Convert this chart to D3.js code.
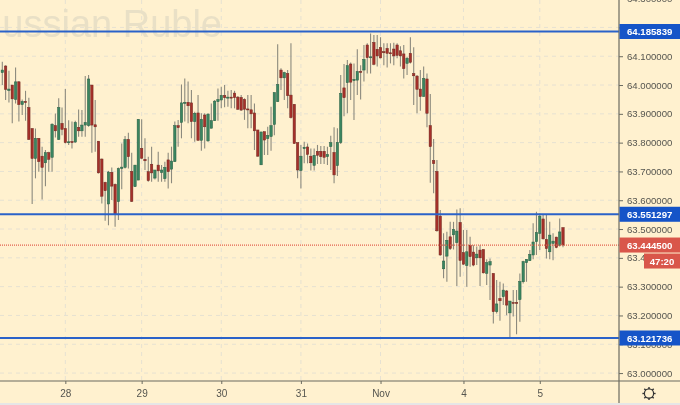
<!DOCTYPE html>
<html>
<head>
<meta charset="utf-8">
<script src="https://cdnjs.cloudflare.com/ajax/libs/d3/7.8.5/d3.min.js"></script>
<style>
html, body { margin: 0; padding: 0; background: #fff1cf; overflow: hidden; }
svg { display: block; filter: blur(0.35px); }
text { font-family: "Liberation Sans", Arial, sans-serif; }
</style>
</head>
<body>
<div id="chart"></div>
<script>
// hourly candles
var opens = [
    64.043,64.066,63.981,64.000,63.950,64.011,63.932,63.943,63.922,63.849,
    63.745,63.815,63.753,63.730,63.765,63.749,63.859,63.811,63.867,63.849,
    63.800,63.804,63.802,63.853,63.841,63.861,63.859,64.000,63.862,63.805,
    63.743,63.662,63.587,63.697,63.655,63.595,63.710,63.714,63.811,63.700,
    63.647,63.670,63.780,63.742,63.699,63.725,63.677,63.722,63.696,63.675,
    63.740,63.708,63.734,63.859,63.870,63.936,63.940,63.938,63.873,63.903,
    63.808,63.896,63.806,63.850,63.876,63.942,63.948,63.964,63.956,63.958,
    63.972,63.958,63.957,63.950,63.917,63.914,63.903,63.844,63.723,63.838,
    63.814,63.821,63.863,63.942,64.052,64.025,64.040,63.965,63.933,63.800,
    63.703,63.779,63.785,63.753,63.721,63.770,63.770,63.770,63.751,63.786,
    63.766,63.720,63.800,63.990,64.008,64.073,64.015,64.017,64.047,64.052,
    64.139,64.095,64.148,64.124,64.130,64.116,64.127,64.112,64.125,64.139,
    64.119,64.108,64.075,64.110,64.040,64.031,63.986,63.960,64.021,63.859,
    63.738,63.700,63.545,63.362,63.406,63.473,63.480,63.453,63.523,63.418,
    63.373,63.444,63.420,63.400,63.427,63.429,63.346,63.375,63.346,63.213,
    63.259,63.265,63.285,63.209,63.245,63.245,63.255,63.317,63.383,63.390,
    63.410,63.456,63.485,63.535,63.464,63.421,63.450,63.472,63.444,63.505];
var highs = [
    64.081,64.069,64.050,64.000,64.061,64.014,63.950,63.980,63.956,63.849,
    63.849,63.815,63.786,63.774,63.768,63.867,63.901,63.954,63.922,63.986,
    63.878,63.873,63.876,63.915,63.913,64.031,64.035,64.000,63.948,63.805,
    63.745,63.664,63.702,63.714,63.658,63.714,63.797,63.823,63.834,63.765,
    63.722,63.881,63.881,63.815,63.751,63.786,63.705,63.768,63.722,63.734,
    63.765,63.786,63.873,63.879,64.002,64.023,64.012,63.983,63.907,63.965,
    63.902,63.902,63.902,63.936,63.948,63.988,63.994,64.000,63.980,63.983,
    63.980,63.962,63.965,63.954,63.965,63.965,63.936,63.844,63.838,63.838,
    63.855,63.925,63.974,64.142,64.058,64.046,64.052,64.145,63.933,63.800,
    63.792,63.803,63.797,63.780,63.780,63.792,63.788,63.788,63.786,63.824,
    63.853,63.850,64.035,64.073,64.087,64.078,64.075,64.124,64.069,64.139,
    64.145,64.179,64.174,64.174,64.166,64.145,64.145,64.145,64.147,64.145,
    64.135,64.139,64.098,64.166,64.131,64.035,64.052,64.064,64.040,63.969,
    63.813,63.740,63.566,63.485,63.491,63.525,63.525,63.568,63.572,63.497,
    63.497,63.473,63.444,63.439,63.444,63.429,63.395,63.398,63.346,63.323,
    63.317,63.311,63.288,63.250,63.288,63.288,63.346,63.390,63.395,63.427,
    63.520,63.560,63.554,63.549,63.549,63.525,63.485,63.473,63.537,63.505];
var lows = [
    64.000,63.948,63.939,63.867,63.936,63.873,63.896,63.876,63.809,63.587,
    63.676,63.699,63.603,63.649,63.699,63.699,63.818,63.809,63.826,63.797,
    63.792,63.780,63.800,63.820,63.820,63.820,63.855,63.765,63.768,63.693,
    63.589,63.529,63.513,63.601,63.508,63.531,63.638,63.710,63.710,63.594,
    63.647,63.670,63.742,63.705,63.664,63.664,63.672,63.664,63.664,63.664,
    63.641,63.659,63.734,63.786,63.815,63.873,63.867,63.815,63.803,63.807,
    63.772,63.780,63.803,63.850,63.876,63.876,63.919,63.923,63.925,63.919,
    63.919,63.913,63.911,63.879,63.850,63.850,63.774,63.751,63.722,63.757,
    63.757,63.772,63.826,63.942,63.983,63.948,63.919,63.884,63.795,63.676,
    63.641,63.728,63.728,63.703,63.703,63.726,63.726,63.726,63.722,63.705,
    63.659,63.684,63.795,63.892,63.902,63.948,63.879,63.965,63.950,64.012,
    64.040,64.040,64.069,64.064,64.093,64.069,64.061,64.075,64.069,64.093,
    64.064,64.023,64.035,64.075,63.931,63.902,63.911,63.960,63.853,63.661,
    63.624,63.491,63.407,63.329,63.317,63.427,63.429,63.302,63.334,63.376,
    63.300,63.369,63.371,63.375,63.302,63.346,63.306,63.254,63.172,63.207,
    63.182,63.236,63.201,63.123,63.196,63.135,63.178,63.311,63.317,63.390,
    63.395,63.410,63.427,63.464,63.398,63.395,63.392,63.433,63.439,63.437];
var closes = [
    64.052,63.985,63.986,63.952,64.011,63.932,63.943,63.939,63.811,63.745,
    63.815,63.734,63.714,63.765,63.742,63.864,63.841,63.922,63.846,63.800,
    63.803,63.800,63.870,63.841,63.861,63.870,64.021,63.861,63.855,63.695,
    63.614,63.633,63.698,63.649,63.552,63.710,63.715,63.811,63.751,63.596,
    63.722,63.881,63.746,63.737,63.668,63.695,63.705,63.702,63.705,63.714,
    63.699,63.736,63.859,63.852,63.938,63.940,63.928,63.873,63.902,63.808,
    63.881,63.855,63.899,63.876,63.944,63.950,63.964,63.956,63.958,63.956,
    63.956,63.916,63.913,63.916,63.916,63.900,63.841,63.753,63.837,63.809,
    63.825,63.859,63.974,64.002,64.025,64.043,63.963,63.887,63.797,63.705,
    63.753,63.784,63.759,63.730,63.756,63.756,63.751,63.749,63.759,63.800,
    63.688,63.801,63.971,63.956,64.067,64.010,64.020,64.047,64.045,64.089,
    64.095,64.098,64.072,64.101,64.094,64.112,64.110,64.110,64.101,64.103,
    64.101,64.057,64.093,64.079,64.032,63.985,63.960,64.023,63.902,63.786,
    63.727,63.494,63.410,63.389,63.461,63.432,63.499,63.493,63.391,63.378,
    63.421,63.404,63.375,63.413,63.400,63.348,63.383,63.387,63.213,63.240,
    63.251,63.288,63.236,63.250,63.243,63.244,63.318,63.387,63.395,63.412,
    63.455,63.488,63.545,63.466,63.432,63.479,63.458,63.436,63.490,63.4445];

var dayLabels = ["28", "29", "30", "31", "Nov", "4", "5"];
var dayIndex = [19, 42, 66, 90, 114, 139, 162];
var priceTicks = [63.0, 63.1, 63.2, 63.3, 63.4, 63.5, 63.6, 63.7, 63.8, 63.9, 64.0, 64.1, 64.2, 64.3];
var levels = [64.185839, 63.551297, 63.121736];
var lastPrice = 63.4445;
var countdown = "47:20";
var title = "Russian Ruble";

var width = 680, height = 405, plotRight = 619, plotBottom = 381;

var x = d3.scaleLinear().domain([0, opens.length - 1]).range([2.3, 563]);
var y = d3.scaleLinear().domain([63.121736, 64.185839]).range([338, 31.5]);

var svg = d3.select("#chart").append("svg").attr("width", width).attr("height", height);

svg.append("rect").attr("width", width).attr("height", height).attr("fill", "#fff1cf");
svg.append("rect").attr("y", 403).attr("width", width).attr("height", 2).attr("fill", "#e6e6e6");

// grid
svg.append("g").selectAll("line").data(priceTicks).enter().append("line")
    .attr("x1", 0).attr("x2", plotRight)
    .attr("y1", d => y(d)).attr("y2", d => y(d))
    .attr("stroke", "#e6e1d2").attr("stroke-dasharray", "4,4");
svg.append("g").selectAll("line").data(dayIndex).enter().append("line")
    .attr("x1", d => x(d)).attr("x2", d => x(d))
    .attr("y1", 0).attr("y2", plotBottom)
    .attr("stroke", "#e6e1d2").attr("stroke-dasharray", "4,4");

// watermark
svg.append("text").attr("x", 222).attr("y", 37)
    .attr("text-anchor", "end")
    .style("font-size", "38px").attr("fill", "#e9e0c6")
    .text(title);

// candles
var candles = svg.append("g").selectAll("g").data(opens).enter().append("g");
candles.append("line")
    .attr("x1", (d, i) => x(i)).attr("x2", (d, i) => x(i))
    .attr("y1", (d, i) => y(highs[i])).attr("y2", (d, i) => y(lows[i]))
    .attr("stroke", "#8c8a7e").attr("stroke-width", 1.1);
candles.append("rect")
    .attr("x", (d, i) => x(i) - 1.2)
    .attr("width", 2.4)
    .attr("y", (d, i) => y(Math.max(d, closes[i])))
    .attr("height", (d, i) => Math.max(1, Math.abs(y(d) - y(closes[i]))))
    .attr("fill", (d, i) => closes[i] >= d ? "#3a8560" : "#a5302a")
    .attr("stroke", (d, i) => closes[i] >= d ? "#2a5f45" : "#702820")
    .attr("stroke-width", 0.5);

// last price dotted line and level lines
svg.append("line")
    .attr("x1", 0).attr("x2", plotRight)
    .attr("y1", y(lastPrice)).attr("y2", y(lastPrice))
    .attr("stroke", "#e2604f").attr("stroke-width", 1.2).attr("stroke-dasharray", "1,1");
svg.append("g").selectAll("line").data(levels).enter().append("line")
    .attr("x1", 0).attr("x2", plotRight)
    .attr("y1", d => y(d)).attr("y2", d => y(d))
    .attr("stroke", "#2a62c9").attr("stroke-width", 2);

// axes
var yAxis = d3.axisRight(y)
    .tickValues(priceTicks)
    .tickFormat(d => d.toFixed(6))
    .tickSize(4).tickPadding(4);
var yG = svg.append("g").attr("transform", "translate(" + plotRight + ",0)").call(yAxis);
yG.select(".domain").remove();
yG.selectAll("line").attr("stroke", "#6b6b60");
yG.selectAll("text").style("font-size", "9.6px").attr("fill", "#55554f");

var xAxis = d3.axisBottom(x)
    .tickValues(dayIndex)
    .tickFormat((d, i) => dayLabels[i])
    .tickSize(3).tickPadding(6);
var xG = svg.append("g").attr("transform", "translate(0," + plotBottom + ")").call(xAxis);
xG.select(".domain").remove();
xG.selectAll("line").attr("stroke", "#6b6b60");
xG.selectAll("text").style("font-size", "10px").attr("fill", "#55554f");

svg.append("line").attr("x1", 0).attr("x2", width)
    .attr("y1", plotBottom).attr("y2", plotBottom)
    .attr("stroke", "#6b6b60").attr("stroke-width", 1.2);
svg.append("line").attr("x1", plotRight).attr("x2", plotRight)
    .attr("y1", 0).attr("y2", height - 2)
    .attr("stroke", "#6b6b60").attr("stroke-width", 1.2);

// price tags on the scale
function priceTag(price, colour, label) {
    svg.append("rect")
        .attr("x", plotRight + 0.5).attr("y", y(price) - 7.5)
        .attr("width", width - plotRight).attr("height", 15)
        .attr("fill", colour);
    svg.append("text")
        .attr("x", plotRight + 8).attr("y", y(price) + 3.5)
        .attr("fill", "#fff").style("font-size", "9.6px").style("font-weight", "bold")
        .text(label);
}
levels.forEach(d => priceTag(d, "#1554c8", d.toFixed(6)));
priceTag(lastPrice, "#d9564a", lastPrice.toFixed(6));

svg.append("rect")
    .attr("x", 644).attr("y", y(lastPrice) + 8.5)
    .attr("width", 36).attr("height", 15)
    .attr("fill", "#d9564a");
svg.append("text")
    .attr("x", 662).attr("y", y(lastPrice) + 19.5)
    .attr("text-anchor", "middle")
    .attr("fill", "#fff").style("font-size", "9.6px").style("font-weight", "bold")
    .text(countdown);

// settings gear
var gear = svg.append("g").attr("transform", "translate(649,393.5)");
gear.append("circle").attr("r", 4.6).attr("fill", "none").attr("stroke", "#333").attr("stroke-width", 1.2);
gear.selectAll("line").data(d3.range(8)).enter().append("line")
    .attr("x1", 0).attr("x2", 0).attr("y1", -4.6).attr("y2", -6.6)
    .attr("transform", d => "rotate(" + (d * 45) + ")")
    .attr("stroke", "#333").attr("stroke-width", 1.4);
</script>
</body>
</html>
